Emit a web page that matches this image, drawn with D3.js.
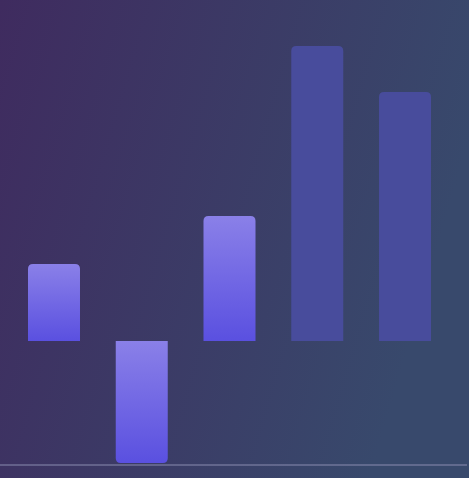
<!DOCTYPE html>
<html><head><meta charset="utf-8">
<script src="https://cdn.jsdelivr.net/npm/d3@7"></script>
<style>html,body{margin:0;padding:0;overflow:hidden;background:#3a3a64}</style>
</head><body>
<script>
const categories = ["A","B","C","D","E"];
const values = [77, -122, 125, 295, 249];
const highlighted = [true, true, true, false, false];

const W = 469, H = 478;
const svg = d3.select("body").append("svg").attr("width", W).attr("height", H);
const defs = svg.append("defs");
const bg = defs.append("linearGradient").attr("id","bg").attr("x1","0").attr("x2","1").attr("y1","0").attr("y2","0.3");
bg.append("stop").attr("offset","0").attr("stop-color","#3f2b5f");
bg.append("stop").attr("offset","1").attr("stop-color","#38496c");
const bar = defs.append("linearGradient").attr("id","bar").attr("x1","0").attr("x2","0").attr("y1","0").attr("y2","1");
bar.append("stop").attr("offset","0").attr("stop-color","#8a80e8");
bar.append("stop").attr("offset","1").attr("stop-color","#5a50e0");
svg.append("rect").attr("width",W).attr("height",H).attr("fill","url(#bg)");

const x = d3.scaleBand().domain(categories).range([28, 431]).paddingInner(0.4075).paddingOuter(0);
const y = d3.scaleLinear().domain([-124, 341]).range([465, 0]);
const r = 5;
function path(d, i) {
  const x0 = x(categories[i]), w = x.bandwidth();
  const y0 = y(0), y1 = y(d);
  if (d >= 0) {
    return `M${x0},${y0}V${y1+r}Q${x0},${y1} ${x0+r},${y1}H${x0+w-r}Q${x0+w},${y1} ${x0+w},${y1+r}V${y0}Z`;
  } else {
    return `M${x0},${y0}V${y1-r}Q${x0},${y1} ${x0+r},${y1}H${x0+w-r}Q${x0+w},${y1} ${x0+w},${y1-r}V${y0}Z`;
  }
}
svg.selectAll("path.bar").data(values).join("path").attr("class","bar")
  .attr("d", path)
  .attr("fill", (d,i) => highlighted[i] ? "url(#bar)" : "#484c9c");
svg.append("line").attr("x1",0).attr("x2",W-2).attr("y1",y(-124)).attr("y2",y(-124))
  .attr("stroke","#8a8cb0").attr("stroke-width",1.2);
</script>
</body></html>
